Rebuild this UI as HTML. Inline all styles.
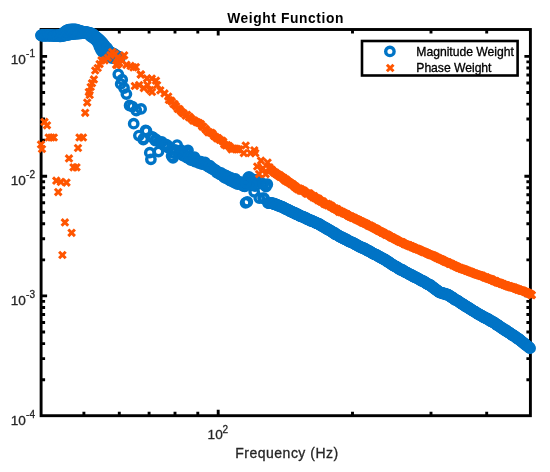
<!DOCTYPE html>
<html><head><meta charset="utf-8"><style>
html,body{margin:0;padding:0;background:#fff;}
svg{display:block;will-change:transform;}
text{font-family:"Liberation Sans",sans-serif;}
.t{stroke:#262626;stroke-width:0.3px;}
.k{stroke:#000;stroke-width:0.3px;}
</style></head><body>
<svg width="550" height="472" viewBox="0 0 550 472">
<rect width="550" height="472" fill="#fff"/>
<rect x="41.1" y="29.5" width="489.3" height="386.2" fill="none" stroke="#000" stroke-width="2.9"/>
<path d="M218.2 415.7v-6M218.2 29.5v6M83.9 415.7v-4M83.9 29.5v4M119.3 415.7v-4M119.3 29.5v4M149.1 415.7v-4M149.1 29.5v4M175.0 415.7v-4M175.0 29.5v4M197.8 415.7v-4M197.8 29.5v4M352.5 415.7v-4M352.5 29.5v4M431.0 415.7v-4M431.0 29.5v4M486.7 415.7v-4M486.7 29.5v4M41.1 56.4h6M530.4 56.4h-6M41.1 176.2h6M530.4 176.2h-6M41.1 295.9h6M530.4 295.9h-6M41.1 379.7h4M530.4 379.7h-4M41.1 358.6h4M530.4 358.6h-4M41.1 343.6h4M530.4 343.6h-4M41.1 332.0h4M530.4 332.0h-4M41.1 322.5h4M530.4 322.5h-4M41.1 314.5h4M530.4 314.5h-4M41.1 307.5h4M530.4 307.5h-4M41.1 301.4h4M530.4 301.4h-4M41.1 259.9h4M530.4 259.9h-4M41.1 238.8h4M530.4 238.8h-4M41.1 223.8h4M530.4 223.8h-4M41.1 212.2h4M530.4 212.2h-4M41.1 202.7h4M530.4 202.7h-4M41.1 194.7h4M530.4 194.7h-4M41.1 187.8h4M530.4 187.8h-4M41.1 181.7h4M530.4 181.7h-4M41.1 140.1h4M530.4 140.1h-4M41.1 119.0h4M530.4 119.0h-4M41.1 104.1h4M530.4 104.1h-4M41.1 92.5h4M530.4 92.5h-4M41.1 83.0h4M530.4 83.0h-4M41.1 75.0h4M530.4 75.0h-4M41.1 68.0h4M530.4 68.0h-4M41.1 61.9h4M530.4 61.9h-4" stroke="#000" stroke-width="2.9" fill="none"/>
<text x="10.7" y="63.6" font-size="13.6" fill="#262626" class="t">10</text><text x="26.0" y="56.5" font-size="10" fill="#262626" class="t">-</text><text x="29.6" y="56.7" font-size="10" fill="#262626" class="t">1</text>
<text x="10.7" y="184.6" font-size="13.6" fill="#262626" class="t">10</text><text x="26.0" y="177.5" font-size="10" fill="#262626" class="t">-</text><text x="29.6" y="177.7" font-size="10" fill="#262626" class="t">2</text>
<text x="10.7" y="304.6" font-size="13.6" fill="#262626" class="t">10</text><text x="26.0" y="297.5" font-size="10" fill="#262626" class="t">-</text><text x="29.6" y="297.7" font-size="10" fill="#262626" class="t">3</text>
<text x="10.7" y="424.6" font-size="13.6" fill="#262626" class="t">10</text><text x="26.0" y="417.5" font-size="10" fill="#262626" class="t">-</text><text x="29.6" y="417.7" font-size="10" fill="#262626" class="t">4</text>
<text x="207.6" y="439.1" font-size="13.6" fill="#262626" class="t">10</text><text x="222.4" y="432.5" font-size="10" fill="#262626" class="t">2</text>

<text x="235.2" y="458.3" font-size="14" fill="#262626" class="t" textLength="103" lengthAdjust="spacing">Frequency (Hz)</text>
<text x="227.2" y="22.8" font-size="13.8" font-weight="bold" fill="#000" textLength="116.2" lengthAdjust="spacing">Weight Function</text>
<g fill="none" stroke="#0074C6" stroke-width="3.4">
<circle cx="41.0" cy="35.3" r="4.2"/><circle cx="41.6" cy="35.5" r="4.2"/><circle cx="41.3" cy="35.1" r="4.2"/><circle cx="42.2" cy="35.3" r="4.2"/><circle cx="42.8" cy="35.5" r="4.2"/><circle cx="42.5" cy="35.5" r="4.2"/><circle cx="43.4" cy="35.3" r="4.2"/><circle cx="44.0" cy="35.5" r="4.2"/><circle cx="43.7" cy="35.3" r="4.2"/><circle cx="44.6" cy="35.3" r="4.2"/><circle cx="45.2" cy="35.5" r="4.2"/><circle cx="44.9" cy="35.5" r="4.2"/><circle cx="45.8" cy="35.3" r="4.2"/><circle cx="46.4" cy="35.5" r="4.2"/><circle cx="46.1" cy="35.6" r="4.2"/><circle cx="47.0" cy="35.4" r="4.2"/><circle cx="47.6" cy="35.6" r="4.2"/><circle cx="47.3" cy="35.0" r="4.2"/><circle cx="48.2" cy="35.4" r="4.2"/><circle cx="48.8" cy="35.6" r="4.2"/><circle cx="48.5" cy="35.0" r="4.2"/><circle cx="49.4" cy="35.4" r="4.2"/><circle cx="50.0" cy="35.6" r="4.2"/><circle cx="49.7" cy="35.8" r="4.2"/><circle cx="50.6" cy="35.4" r="4.2"/><circle cx="51.2" cy="35.6" r="4.2"/><circle cx="50.9" cy="35.2" r="4.2"/><circle cx="51.8" cy="35.4" r="4.2"/><circle cx="52.4" cy="35.6" r="4.2"/><circle cx="52.1" cy="35.2" r="4.2"/><circle cx="53.0" cy="35.4" r="4.2"/><circle cx="53.6" cy="35.7" r="4.2"/><circle cx="53.3" cy="36.0" r="4.2"/><circle cx="54.2" cy="35.3" r="4.2"/><circle cx="54.8" cy="35.8" r="4.2"/><circle cx="54.5" cy="35.5" r="4.2"/><circle cx="55.4" cy="35.3" r="4.2"/><circle cx="56.0" cy="35.9" r="4.2"/><circle cx="55.7" cy="35.9" r="4.2"/><circle cx="56.6" cy="35.2" r="4.2"/><circle cx="57.2" cy="36.1" r="4.2"/><circle cx="56.9" cy="35.6" r="4.2"/><circle cx="57.8" cy="35.2" r="4.2"/><circle cx="58.4" cy="36.2" r="4.2"/><circle cx="58.1" cy="35.8" r="4.2"/><circle cx="59.0" cy="35.0" r="4.2"/><circle cx="59.6" cy="36.3" r="4.2"/><circle cx="59.3" cy="35.3" r="4.2"/><circle cx="60.2" cy="34.8" r="4.2"/><circle cx="60.8" cy="36.4" r="4.2"/><circle cx="60.5" cy="35.7" r="4.2"/><circle cx="61.4" cy="34.3" r="4.2"/><circle cx="62.0" cy="36.1" r="4.2"/><circle cx="61.7" cy="35.6" r="4.2"/><circle cx="62.6" cy="33.5" r="4.2"/><circle cx="63.2" cy="35.8" r="4.2"/><circle cx="62.9" cy="34.7" r="4.2"/><circle cx="63.8" cy="32.6" r="4.2"/><circle cx="64.4" cy="35.6" r="4.2"/><circle cx="64.1" cy="34.3" r="4.2"/><circle cx="65.0" cy="31.7" r="4.2"/><circle cx="65.6" cy="35.3" r="4.2"/><circle cx="65.3" cy="33.7" r="4.2"/><circle cx="66.2" cy="30.7" r="4.2"/><circle cx="66.8" cy="35.1" r="4.2"/><circle cx="66.5" cy="32.5" r="4.2"/><circle cx="67.4" cy="30.2" r="4.2"/><circle cx="68.0" cy="34.8" r="4.2"/><circle cx="67.7" cy="32.8" r="4.2"/><circle cx="68.6" cy="29.7" r="4.2"/><circle cx="69.2" cy="34.6" r="4.2"/><circle cx="68.9" cy="32.3" r="4.2"/><circle cx="69.8" cy="29.6" r="4.2"/><circle cx="70.4" cy="34.4" r="4.2"/><circle cx="70.1" cy="31.8" r="4.2"/><circle cx="71.0" cy="29.5" r="4.2"/><circle cx="71.6" cy="34.2" r="4.2"/><circle cx="71.3" cy="31.4" r="4.2"/><circle cx="72.2" cy="29.5" r="4.2"/><circle cx="72.8" cy="34.1" r="4.2"/><circle cx="72.5" cy="32.2" r="4.2"/><circle cx="73.4" cy="29.5" r="4.2"/><circle cx="74.0" cy="33.9" r="4.2"/><circle cx="73.7" cy="31.7" r="4.2"/><circle cx="74.6" cy="29.4" r="4.2"/><circle cx="75.2" cy="33.8" r="4.2"/><circle cx="74.9" cy="31.8" r="4.2"/><circle cx="75.8" cy="29.4" r="4.2"/><circle cx="76.4" cy="33.6" r="4.2"/><circle cx="76.1" cy="31.9" r="4.2"/><circle cx="77.0" cy="29.8" r="4.2"/><circle cx="77.6" cy="33.5" r="4.2"/><circle cx="77.3" cy="31.9" r="4.2"/><circle cx="78.2" cy="30.2" r="4.2"/><circle cx="78.8" cy="33.5" r="4.2"/><circle cx="78.5" cy="32.2" r="4.2"/><circle cx="79.4" cy="30.6" r="4.2"/><circle cx="80.0" cy="33.4" r="4.2"/><circle cx="79.7" cy="31.9" r="4.2"/><circle cx="80.6" cy="31.0" r="4.2"/><circle cx="81.2" cy="33.3" r="4.2"/><circle cx="80.9" cy="32.5" r="4.2"/><circle cx="81.8" cy="31.4" r="4.2"/><circle cx="82.4" cy="33.2" r="4.2"/><circle cx="82.1" cy="32.3" r="4.2"/><circle cx="83.0" cy="31.7" r="4.2"/><circle cx="83.6" cy="33.2" r="4.2"/><circle cx="83.3" cy="32.8" r="4.2"/><circle cx="84.2" cy="31.9" r="4.2"/><circle cx="84.8" cy="33.1" r="4.2"/><circle cx="84.5" cy="32.9" r="4.2"/><circle cx="85.4" cy="32.0" r="4.2"/><circle cx="86.0" cy="33.1" r="4.2"/><circle cx="85.7" cy="32.2" r="4.2"/><circle cx="86.6" cy="32.2" r="4.2"/><circle cx="87.2" cy="33.0" r="4.2"/><circle cx="86.9" cy="32.3" r="4.2"/><circle cx="87.8" cy="32.5" r="4.2"/><circle cx="88.4" cy="33.9" r="4.2"/><circle cx="88.1" cy="32.9" r="4.2"/><circle cx="89.0" cy="32.7" r="4.2"/><circle cx="89.6" cy="35.2" r="4.2"/><circle cx="89.3" cy="34.4" r="4.2"/><circle cx="90.2" cy="33.0" r="4.2"/><circle cx="90.8" cy="36.4" r="4.2"/><circle cx="90.5" cy="34.6" r="4.2"/><circle cx="91.4" cy="33.5" r="4.2"/><circle cx="92.0" cy="37.2" r="4.2"/><circle cx="91.7" cy="35.5" r="4.2"/><circle cx="92.6" cy="34.0" r="4.2"/><circle cx="93.2" cy="37.9" r="4.2"/><circle cx="92.9" cy="35.8" r="4.2"/><circle cx="93.8" cy="34.7" r="4.2"/><circle cx="94.4" cy="38.8" r="4.2"/><circle cx="94.1" cy="36.7" r="4.2"/><circle cx="95.0" cy="35.8" r="4.2"/><circle cx="95.6" cy="39.9" r="4.2"/><circle cx="95.3" cy="37.7" r="4.2"/><circle cx="96.2" cy="36.9" r="4.2"/><circle cx="96.8" cy="41.1" r="4.2"/><circle cx="96.5" cy="38.8" r="4.2"/><circle cx="97.4" cy="37.9" r="4.2"/><circle cx="98.0" cy="43.0" r="4.2"/><circle cx="97.7" cy="40.5" r="4.2"/><circle cx="98.6" cy="39.0" r="4.2"/><circle cx="99.2" cy="44.9" r="4.2"/><circle cx="98.9" cy="42.0" r="4.2"/><circle cx="99.8" cy="40.0" r="4.2"/><circle cx="100.4" cy="46.4" r="4.2"/><circle cx="100.1" cy="43.6" r="4.2"/><circle cx="101.0" cy="41.1" r="4.2"/><circle cx="101.6" cy="47.8" r="4.2"/><circle cx="101.3" cy="44.6" r="4.2"/><circle cx="102.2" cy="42.3" r="4.2"/><circle cx="102.8" cy="49.1" r="4.2"/><circle cx="102.5" cy="46.1" r="4.2"/><circle cx="103.4" cy="43.9" r="4.2"/><circle cx="104.0" cy="49.9" r="4.2"/><circle cx="103.7" cy="47.3" r="4.2"/><circle cx="104.6" cy="45.5" r="4.2"/><circle cx="105.2" cy="50.7" r="4.2"/><circle cx="104.9" cy="48.6" r="4.2"/><circle cx="105.8" cy="47.1" r="4.2"/><circle cx="106.4" cy="51.5" r="4.2"/><circle cx="106.1" cy="49.5" r="4.2"/><circle cx="107.0" cy="48.6" r="4.2"/><circle cx="107.6" cy="52.6" r="4.2"/><circle cx="107.3" cy="50.2" r="4.2"/><circle cx="108.2" cy="49.9" r="4.2"/><circle cx="108.8" cy="53.9" r="4.2"/><circle cx="108.5" cy="52.3" r="4.2"/><circle cx="109.4" cy="51.3" r="4.2"/><circle cx="110.0" cy="55.3" r="4.2"/><circle cx="109.7" cy="53.8" r="4.2"/><circle cx="110.6" cy="52.3" r="4.2"/><circle cx="111.2" cy="56.3" r="4.2"/><circle cx="110.9" cy="54.7" r="4.2"/><circle cx="111.8" cy="52.8" r="4.2"/><circle cx="112.4" cy="56.9" r="4.2"/><circle cx="112.1" cy="54.9" r="4.2"/><circle cx="113.0" cy="53.3" r="4.2"/><circle cx="113.6" cy="57.5" r="4.2"/><circle cx="113.3" cy="55.6" r="4.2"/><circle cx="114.2" cy="53.9" r="4.2"/><circle cx="114.8" cy="58.0" r="4.2"/><circle cx="114.5" cy="55.6" r="4.2"/><circle cx="115.4" cy="54.8" r="4.2"/><circle cx="116.0" cy="57.9" r="4.2"/><circle cx="115.7" cy="56.7" r="4.2"/><circle cx="116.6" cy="55.7" r="4.2"/><circle cx="117.2" cy="57.8" r="4.2"/><circle cx="116.9" cy="56.8" r="4.2"/><circle cx="117.8" cy="56.7" r="4.2"/><circle cx="118.4" cy="57.7" r="4.2"/><circle cx="118.1" cy="57.0" r="4.2"/><circle cx="119.0" cy="57.6" r="4.2"/><circle cx="119.6" cy="57.6" r="4.2"/><circle cx="119.3" cy="57.2" r="4.2"/><circle cx="249.0" cy="177.0" r="4.2"/><circle cx="253.0" cy="179.5" r="4.2"/><circle cx="258.0" cy="181.0" r="4.2"/><circle cx="262.0" cy="183.5" r="4.2"/><circle cx="266.0" cy="186.5" r="4.2"/><circle cx="255.0" cy="186.0" r="4.2"/><circle cx="250.0" cy="183.0" r="4.2"/><circle cx="152.0" cy="137.0" r="4.2"/><circle cx="156.0" cy="139.5" r="4.2"/><circle cx="160.0" cy="142.5" r="4.2"/><circle cx="164.0" cy="145.0" r="4.2"/><circle cx="168.0" cy="147.5" r="4.2"/><circle cx="175.0" cy="150.0" r="4.2"/><circle cx="179.0" cy="152.0" r="4.2"/><circle cx="183.0" cy="155.5" r="4.2"/><circle cx="187.0" cy="157.5" r="4.2"/><circle cx="191.0" cy="160.0" r="4.2"/><circle cx="195.0" cy="161.0" r="4.2"/><circle cx="99.5" cy="47.0" r="4.2"/><circle cx="101.0" cy="50.0" r="4.2"/><circle cx="102.5" cy="52.0" r="4.2"/><circle cx="104.0" cy="51.0" r="4.2"/><circle cx="106.0" cy="50.0" r="4.2"/><circle cx="108.0" cy="54.0" r="4.2"/><circle cx="110.0" cy="56.0" r="4.2"/><circle cx="112.0" cy="58.0" r="4.2"/><circle cx="114.5" cy="57.0" r="4.2"/><circle cx="117.0" cy="58.0" r="4.2"/><circle cx="120.0" cy="57.5" r="4.2"/><circle cx="103.0" cy="46.0" r="4.2"/><circle cx="107.0" cy="48.0" r="4.2"/><circle cx="118.3" cy="74.3" r="4.2"/><circle cx="122.2" cy="79.7" r="4.2"/><circle cx="120.7" cy="83.9" r="4.2"/><circle cx="126.4" cy="94.1" r="4.2"/><circle cx="124.0" cy="88.0" r="4.2"/><circle cx="129.6" cy="105.5" r="4.2"/><circle cx="132.5" cy="106.6" r="4.2"/><circle cx="136.3" cy="110.5" r="4.2"/><circle cx="141.1" cy="108.9" r="4.2"/><circle cx="133.7" cy="123.7" r="4.2"/><circle cx="138.9" cy="135.6" r="4.2"/><circle cx="143.4" cy="138.6" r="4.2"/><circle cx="145.6" cy="130.4" r="4.2"/><circle cx="146.5" cy="130.9" r="4.2"/><circle cx="143.3" cy="139.6" r="4.2"/><circle cx="153.1" cy="137.4" r="4.2"/><circle cx="155.3" cy="140.7" r="4.2"/><circle cx="149.8" cy="152.7" r="4.2"/><circle cx="150.9" cy="159.3" r="4.2"/><circle cx="158.5" cy="151.6" r="4.2"/><circle cx="161.8" cy="141.8" r="4.2"/><circle cx="167.3" cy="145.1" r="4.2"/><circle cx="171.6" cy="156.0" r="4.2"/><circle cx="172.7" cy="152.7" r="4.2"/><circle cx="177.1" cy="145.1" r="4.2"/><circle cx="181.4" cy="151.6" r="4.2"/><circle cx="188.0" cy="150.5" r="4.2"/><circle cx="190.2" cy="159.3" r="4.2"/><circle cx="194.5" cy="157.1" r="4.2"/><circle cx="198.9" cy="161.4" r="4.2"/><circle cx="165.6" cy="144.5" r="4.2"/><circle cx="173.0" cy="157.9" r="4.2"/><circle cx="181.9" cy="153.4" r="4.2"/><circle cx="186.0" cy="152.0" r="4.2"/><circle cx="250.4" cy="178.4" r="4.2"/><circle cx="256.0" cy="180.0" r="4.2"/><circle cx="263.1" cy="184.1" r="4.2"/><circle cx="267.3" cy="184.2" r="4.2"/><circle cx="254.2" cy="191.8" r="4.2"/><circle cx="245.6" cy="202.8" r="4.2"/><circle cx="247.3" cy="201.8" r="4.2"/><circle cx="259.3" cy="198.1" r="4.2"/><circle cx="263.1" cy="198.1" r="4.2"/><circle cx="264.1" cy="198.5" r="4.2"/><circle cx="252.0" cy="185.0" r="4.2"/><circle cx="248.0" cy="178.0" r="4.2"/><circle cx="180.2" cy="151.6" r="4.2"/><circle cx="181.1" cy="150.1" r="4.2"/><circle cx="181.9" cy="152.0" r="4.2"/><circle cx="183.1" cy="152.5" r="4.2"/><circle cx="183.8" cy="155.1" r="4.2"/><circle cx="184.8" cy="155.1" r="4.2"/><circle cx="185.9" cy="156.3" r="4.2"/><circle cx="187.2" cy="157.5" r="4.2"/><circle cx="188.2" cy="156.9" r="4.2"/><circle cx="188.8" cy="156.9" r="4.2"/><circle cx="189.8" cy="158.3" r="4.2"/><circle cx="191.0" cy="157.6" r="4.2"/><circle cx="191.9" cy="159.4" r="4.2"/><circle cx="193.1" cy="158.2" r="4.2"/><circle cx="194.2" cy="159.4" r="4.2"/><circle cx="195.0" cy="161.5" r="4.2"/><circle cx="196.0" cy="160.6" r="4.2"/><circle cx="197.0" cy="161.5" r="4.2"/><circle cx="198.0" cy="161.6" r="4.2"/><circle cx="199.0" cy="163.1" r="4.2"/><circle cx="200.1" cy="161.9" r="4.2"/><circle cx="200.9" cy="161.7" r="4.2"/><circle cx="202.0" cy="164.2" r="4.2"/><circle cx="202.8" cy="163.3" r="4.2"/><circle cx="204.0" cy="163.2" r="4.2"/><circle cx="205.0" cy="162.4" r="4.2"/><circle cx="205.8" cy="164.8" r="4.2"/><circle cx="207.0" cy="165.5" r="4.2"/><circle cx="207.9" cy="166.3" r="4.2"/><circle cx="209.1" cy="167.0" r="4.2"/><circle cx="209.8" cy="165.6" r="4.2"/><circle cx="211.2" cy="168.3" r="4.2"/><circle cx="212.0" cy="167.7" r="4.2"/><circle cx="212.9" cy="169.4" r="4.2"/><circle cx="213.9" cy="169.3" r="4.2"/><circle cx="215.0" cy="170.0" r="4.2"/><circle cx="216.0" cy="170.5" r="4.2"/><circle cx="216.8" cy="172.6" r="4.2"/><circle cx="218.1" cy="172.6" r="4.2"/><circle cx="218.9" cy="172.4" r="4.2"/><circle cx="219.9" cy="174.4" r="4.2"/><circle cx="221.0" cy="173.0" r="4.2"/><circle cx="221.8" cy="175.1" r="4.2"/><circle cx="222.9" cy="174.5" r="4.2"/><circle cx="224.0" cy="176.5" r="4.2"/><circle cx="223.9" cy="177.1" r="4.2"/><circle cx="224.9" cy="175.2" r="4.2"/><circle cx="225.6" cy="178.1" r="4.2"/><circle cx="226.2" cy="175.6" r="4.2"/><circle cx="227.1" cy="177.5" r="4.2"/><circle cx="228.1" cy="179.2" r="4.2"/><circle cx="228.7" cy="176.9" r="4.2"/><circle cx="229.7" cy="180.1" r="4.2"/><circle cx="230.3" cy="180.6" r="4.2"/><circle cx="231.1" cy="178.0" r="4.2"/><circle cx="231.9" cy="181.2" r="4.2"/><circle cx="232.8" cy="179.6" r="4.2"/><circle cx="233.6" cy="180.2" r="4.2"/><circle cx="234.3" cy="182.7" r="4.2"/><circle cx="235.4" cy="179.0" r="4.2"/><circle cx="236.2" cy="183.2" r="4.2"/><circle cx="237.0" cy="181.5" r="4.2"/><circle cx="237.5" cy="184.0" r="4.2"/><circle cx="238.5" cy="183.5" r="4.2"/><circle cx="239.2" cy="183.4" r="4.2"/><circle cx="239.9" cy="182.1" r="4.2"/><circle cx="240.6" cy="182.1" r="4.2"/><circle cx="241.5" cy="183.9" r="4.2"/><circle cx="242.2" cy="185.2" r="4.2"/><circle cx="243.3" cy="185.8" r="4.2"/><circle cx="244.2" cy="186.2" r="4.2"/><circle cx="244.8" cy="186.4" r="4.2"/><circle cx="245.7" cy="182.7" r="4.2"/><circle cx="267.9" cy="202.8" r="4.2"/><circle cx="268.6" cy="203.2" r="4.2"/><circle cx="269.4" cy="203.0" r="4.2"/><circle cx="269.7" cy="203.2" r="4.2"/><circle cx="270.5" cy="203.0" r="4.2"/><circle cx="271.1" cy="203.2" r="4.2"/><circle cx="271.5" cy="203.1" r="4.2"/><circle cx="272.3" cy="203.3" r="4.2"/><circle cx="272.9" cy="203.1" r="4.2"/><circle cx="273.5" cy="203.9" r="4.2"/><circle cx="273.8" cy="204.1" r="4.2"/><circle cx="274.7" cy="204.2" r="4.2"/><circle cx="275.1" cy="204.0" r="4.2"/><circle cx="275.8" cy="204.4" r="4.2"/><circle cx="276.4" cy="204.8" r="4.2"/><circle cx="276.8" cy="205.2" r="4.2"/><circle cx="277.5" cy="205.0" r="4.2"/><circle cx="278.0" cy="205.3" r="4.2"/><circle cx="278.9" cy="206.1" r="4.2"/><circle cx="279.4" cy="205.7" r="4.2"/><circle cx="279.9" cy="206.1" r="4.2"/><circle cx="280.7" cy="206.4" r="4.2"/><circle cx="281.1" cy="206.8" r="4.2"/><circle cx="281.7" cy="206.7" r="4.2"/><circle cx="282.4" cy="206.9" r="4.2"/><circle cx="283.0" cy="207.6" r="4.2"/><circle cx="283.5" cy="207.4" r="4.2"/><circle cx="284.2" cy="207.9" r="4.2"/><circle cx="284.8" cy="208.5" r="4.2"/><circle cx="285.4" cy="208.8" r="4.2"/><circle cx="285.9" cy="208.9" r="4.2"/><circle cx="286.7" cy="209.2" r="4.2"/><circle cx="287.3" cy="209.5" r="4.2"/><circle cx="287.7" cy="209.8" r="4.2"/><circle cx="288.5" cy="210.2" r="4.2"/><circle cx="289.0" cy="210.2" r="4.2"/><circle cx="289.8" cy="210.7" r="4.2"/><circle cx="290.1" cy="211.4" r="4.2"/><circle cx="290.9" cy="211.6" r="4.2"/><circle cx="291.4" cy="211.5" r="4.2"/><circle cx="292.1" cy="211.7" r="4.2"/><circle cx="292.8" cy="212.3" r="4.2"/><circle cx="293.3" cy="212.7" r="4.2"/><circle cx="293.8" cy="212.9" r="4.2"/><circle cx="294.4" cy="212.7" r="4.2"/><circle cx="294.9" cy="212.9" r="4.2"/><circle cx="295.4" cy="213.8" r="4.2"/><circle cx="296.0" cy="213.6" r="4.2"/><circle cx="296.7" cy="214.4" r="4.2"/><circle cx="297.5" cy="214.1" r="4.2"/><circle cx="298.1" cy="214.4" r="4.2"/><circle cx="298.7" cy="215.1" r="4.2"/><circle cx="299.2" cy="215.5" r="4.2"/><circle cx="299.6" cy="215.7" r="4.2"/><circle cx="300.4" cy="216.0" r="4.2"/><circle cx="300.8" cy="216.2" r="4.2"/><circle cx="301.8" cy="216.5" r="4.2"/><circle cx="302.1" cy="216.3" r="4.2"/><circle cx="302.9" cy="216.9" r="4.2"/><circle cx="303.3" cy="217.0" r="4.2"/><circle cx="304.0" cy="217.2" r="4.2"/><circle cx="304.6" cy="217.9" r="4.2"/><circle cx="305.2" cy="217.9" r="4.2"/><circle cx="305.8" cy="218.1" r="4.2"/><circle cx="306.4" cy="218.2" r="4.2"/><circle cx="307.0" cy="219.1" r="4.2"/><circle cx="307.5" cy="219.2" r="4.2"/><circle cx="308.3" cy="219.5" r="4.2"/><circle cx="308.8" cy="219.7" r="4.2"/><circle cx="309.5" cy="219.9" r="4.2"/><circle cx="309.9" cy="220.4" r="4.2"/><circle cx="310.7" cy="220.1" r="4.2"/><circle cx="311.2" cy="221.0" r="4.2"/><circle cx="311.9" cy="220.9" r="4.2"/><circle cx="312.3" cy="221.0" r="4.2"/><circle cx="313.0" cy="221.3" r="4.2"/><circle cx="313.5" cy="221.7" r="4.2"/><circle cx="314.4" cy="222.2" r="4.2"/><circle cx="314.9" cy="222.2" r="4.2"/><circle cx="315.5" cy="222.5" r="4.2"/><circle cx="315.9" cy="222.9" r="4.2"/><circle cx="316.4" cy="223.0" r="4.2"/><circle cx="317.2" cy="223.4" r="4.2"/><circle cx="317.7" cy="223.5" r="4.2"/><circle cx="318.5" cy="223.8" r="4.2"/><circle cx="319.2" cy="224.0" r="4.2"/><circle cx="319.6" cy="224.5" r="4.2"/><circle cx="320.3" cy="224.8" r="4.2"/><circle cx="320.8" cy="225.4" r="4.2"/><circle cx="321.5" cy="225.5" r="4.2"/><circle cx="322.0" cy="226.1" r="4.2"/><circle cx="322.8" cy="226.4" r="4.2"/><circle cx="323.1" cy="226.6" r="4.2"/><circle cx="323.9" cy="226.8" r="4.2"/><circle cx="324.6" cy="227.4" r="4.2"/><circle cx="324.9" cy="227.9" r="4.2"/><circle cx="325.5" cy="227.8" r="4.2"/><circle cx="326.3" cy="228.1" r="4.2"/><circle cx="327.0" cy="229.0" r="4.2"/><circle cx="327.5" cy="228.9" r="4.2"/><circle cx="328.0" cy="229.3" r="4.2"/><circle cx="328.4" cy="229.9" r="4.2"/><circle cx="329.3" cy="229.8" r="4.2"/><circle cx="329.7" cy="230.3" r="4.2"/><circle cx="330.5" cy="230.9" r="4.2"/><circle cx="330.9" cy="230.8" r="4.2"/><circle cx="331.6" cy="231.5" r="4.2"/><circle cx="332.2" cy="231.7" r="4.2"/><circle cx="332.8" cy="232.6" r="4.2"/><circle cx="333.2" cy="232.6" r="4.2"/><circle cx="334.1" cy="232.8" r="4.2"/><circle cx="334.8" cy="233.0" r="4.2"/><circle cx="335.0" cy="234.0" r="4.2"/><circle cx="335.7" cy="234.3" r="4.2"/><circle cx="336.5" cy="234.6" r="4.2"/><circle cx="337.1" cy="234.6" r="4.2"/><circle cx="337.7" cy="235.2" r="4.2"/><circle cx="338.3" cy="235.3" r="4.2"/><circle cx="338.9" cy="236.1" r="4.2"/><circle cx="339.2" cy="236.2" r="4.2"/><circle cx="339.9" cy="236.5" r="4.2"/><circle cx="340.7" cy="237.0" r="4.2"/><circle cx="341.1" cy="237.2" r="4.2"/><circle cx="341.9" cy="237.5" r="4.2"/><circle cx="342.6" cy="237.5" r="4.2"/><circle cx="342.8" cy="238.1" r="4.2"/><circle cx="343.5" cy="238.6" r="4.2"/><circle cx="344.3" cy="238.5" r="4.2"/><circle cx="344.8" cy="239.0" r="4.2"/><circle cx="345.4" cy="239.3" r="4.2"/><circle cx="345.9" cy="239.4" r="4.2"/><circle cx="346.7" cy="239.5" r="4.2"/><circle cx="347.2" cy="240.3" r="4.2"/><circle cx="347.7" cy="240.6" r="4.2"/><circle cx="348.4" cy="240.6" r="4.2"/><circle cx="348.8" cy="241.3" r="4.2"/><circle cx="349.5" cy="241.3" r="4.2"/><circle cx="350.1" cy="241.8" r="4.2"/><circle cx="350.8" cy="241.8" r="4.2"/><circle cx="351.5" cy="242.3" r="4.2"/><circle cx="352.1" cy="242.4" r="4.2"/><circle cx="352.5" cy="242.6" r="4.2"/><circle cx="353.0" cy="242.9" r="4.2"/><circle cx="353.9" cy="243.6" r="4.2"/><circle cx="354.3" cy="243.5" r="4.2"/><circle cx="355.1" cy="244.0" r="4.2"/><circle cx="355.7" cy="244.6" r="4.2"/><circle cx="356.1" cy="244.7" r="4.2"/><circle cx="356.7" cy="244.9" r="4.2"/><circle cx="357.4" cy="245.3" r="4.2"/><circle cx="357.9" cy="245.4" r="4.2"/><circle cx="358.4" cy="246.1" r="4.2"/><circle cx="359.4" cy="246.4" r="4.2"/><circle cx="359.8" cy="246.8" r="4.2"/><circle cx="360.4" cy="246.8" r="4.2"/><circle cx="361.2" cy="247.2" r="4.2"/><circle cx="361.5" cy="247.5" r="4.2"/><circle cx="362.2" cy="247.9" r="4.2"/><circle cx="362.9" cy="248.0" r="4.2"/><circle cx="363.5" cy="247.9" r="4.2"/><circle cx="364.0" cy="248.7" r="4.2"/><circle cx="364.6" cy="248.9" r="4.2"/><circle cx="365.2" cy="249.0" r="4.2"/><circle cx="365.8" cy="249.2" r="4.2"/><circle cx="366.4" cy="249.9" r="4.2"/><circle cx="367.2" cy="250.1" r="4.2"/><circle cx="367.5" cy="250.7" r="4.2"/><circle cx="368.2" cy="250.9" r="4.2"/><circle cx="368.7" cy="250.7" r="4.2"/><circle cx="369.2" cy="251.1" r="4.2"/><circle cx="370.2" cy="251.6" r="4.2"/><circle cx="370.7" cy="251.8" r="4.2"/><circle cx="371.1" cy="252.4" r="4.2"/><circle cx="371.8" cy="252.8" r="4.2"/><circle cx="372.5" cy="253.2" r="4.2"/><circle cx="372.9" cy="253.4" r="4.2"/><circle cx="373.8" cy="253.8" r="4.2"/><circle cx="374.2" cy="254.1" r="4.2"/><circle cx="374.8" cy="254.4" r="4.2"/><circle cx="375.2" cy="254.3" r="4.2"/><circle cx="375.9" cy="254.6" r="4.2"/><circle cx="376.6" cy="255.0" r="4.2"/><circle cx="377.2" cy="255.7" r="4.2"/><circle cx="377.9" cy="255.8" r="4.2"/><circle cx="378.4" cy="256.1" r="4.2"/><circle cx="379.0" cy="256.7" r="4.2"/><circle cx="379.8" cy="256.6" r="4.2"/><circle cx="380.1" cy="257.3" r="4.2"/><circle cx="380.8" cy="257.4" r="4.2"/><circle cx="381.3" cy="257.9" r="4.2"/><circle cx="381.9" cy="257.8" r="4.2"/><circle cx="382.5" cy="258.7" r="4.2"/><circle cx="383.1" cy="258.8" r="4.2"/><circle cx="383.7" cy="258.9" r="4.2"/><circle cx="384.3" cy="259.4" r="4.2"/><circle cx="384.8" cy="259.5" r="4.2"/><circle cx="385.6" cy="260.0" r="4.2"/><circle cx="386.0" cy="260.3" r="4.2"/><circle cx="386.8" cy="260.9" r="4.2"/><circle cx="387.2" cy="261.5" r="4.2"/><circle cx="388.0" cy="261.7" r="4.2"/><circle cx="388.8" cy="261.8" r="4.2"/><circle cx="389.0" cy="262.3" r="4.2"/><circle cx="389.7" cy="262.9" r="4.2"/><circle cx="390.3" cy="263.3" r="4.2"/><circle cx="390.8" cy="263.4" r="4.2"/><circle cx="391.5" cy="264.2" r="4.2"/><circle cx="392.2" cy="264.6" r="4.2"/><circle cx="392.7" cy="265.1" r="4.2"/><circle cx="393.3" cy="265.0" r="4.2"/><circle cx="394.1" cy="265.8" r="4.2"/><circle cx="394.4" cy="265.8" r="4.2"/><circle cx="395.4" cy="266.4" r="4.2"/><circle cx="395.6" cy="266.7" r="4.2"/><circle cx="396.2" cy="266.7" r="4.2"/><circle cx="396.8" cy="267.1" r="4.2"/><circle cx="397.7" cy="267.3" r="4.2"/><circle cx="398.1" cy="268.3" r="4.2"/><circle cx="398.8" cy="268.7" r="4.2"/><circle cx="399.6" cy="268.9" r="4.2"/><circle cx="399.8" cy="269.3" r="4.2"/><circle cx="400.6" cy="269.2" r="4.2"/><circle cx="401.0" cy="270.0" r="4.2"/><circle cx="401.9" cy="269.8" r="4.2"/><circle cx="402.4" cy="270.0" r="4.2"/><circle cx="403.1" cy="270.5" r="4.2"/><circle cx="403.5" cy="271.2" r="4.2"/><circle cx="404.3" cy="271.4" r="4.2"/><circle cx="404.8" cy="271.8" r="4.2"/><circle cx="405.3" cy="272.2" r="4.2"/><circle cx="405.9" cy="272.2" r="4.2"/><circle cx="406.6" cy="272.7" r="4.2"/><circle cx="407.1" cy="272.7" r="4.2"/><circle cx="407.8" cy="273.3" r="4.2"/><circle cx="408.4" cy="273.7" r="4.2"/><circle cx="408.9" cy="273.8" r="4.2"/><circle cx="409.4" cy="274.3" r="4.2"/><circle cx="410.3" cy="274.5" r="4.2"/><circle cx="410.6" cy="274.9" r="4.2"/><circle cx="411.5" cy="274.9" r="4.2"/><circle cx="412.2" cy="275.5" r="4.2"/><circle cx="412.6" cy="276.0" r="4.2"/><circle cx="413.3" cy="276.4" r="4.2"/><circle cx="413.7" cy="276.3" r="4.2"/><circle cx="414.4" cy="276.4" r="4.2"/><circle cx="414.8" cy="277.4" r="4.2"/><circle cx="415.4" cy="277.4" r="4.2"/><circle cx="416.3" cy="277.4" r="4.2"/><circle cx="416.6" cy="277.8" r="4.2"/><circle cx="417.5" cy="278.1" r="4.2"/><circle cx="417.8" cy="278.7" r="4.2"/><circle cx="418.8" cy="278.8" r="4.2"/><circle cx="419.2" cy="279.1" r="4.2"/><circle cx="419.9" cy="279.6" r="4.2"/><circle cx="420.5" cy="280.0" r="4.2"/><circle cx="420.9" cy="280.3" r="4.2"/><circle cx="421.4" cy="280.4" r="4.2"/><circle cx="422.0" cy="281.1" r="4.2"/><circle cx="423.0" cy="280.9" r="4.2"/><circle cx="423.6" cy="281.3" r="4.2"/><circle cx="424.0" cy="281.6" r="4.2"/><circle cx="424.7" cy="282.0" r="4.2"/><circle cx="425.3" cy="282.6" r="4.2"/><circle cx="425.9" cy="283.0" r="4.2"/><circle cx="426.4" cy="283.1" r="4.2"/><circle cx="426.8" cy="283.5" r="4.2"/><circle cx="427.6" cy="284.0" r="4.2"/><circle cx="428.1" cy="284.4" r="4.2"/><circle cx="428.8" cy="284.5" r="4.2"/><circle cx="429.2" cy="284.9" r="4.2"/><circle cx="430.0" cy="285.0" r="4.2"/><circle cx="430.6" cy="285.2" r="4.2"/><circle cx="431.2" cy="286.2" r="4.2"/><circle cx="431.8" cy="286.5" r="4.2"/><circle cx="432.3" cy="286.7" r="4.2"/><circle cx="432.9" cy="287.7" r="4.2"/><circle cx="433.4" cy="287.7" r="4.2"/><circle cx="434.1" cy="288.0" r="4.2"/><circle cx="434.9" cy="289.0" r="4.2"/><circle cx="435.6" cy="289.4" r="4.2"/><circle cx="436.2" cy="289.6" r="4.2"/><circle cx="436.6" cy="290.0" r="4.2"/><circle cx="437.4" cy="290.7" r="4.2"/><circle cx="437.8" cy="291.2" r="4.2"/><circle cx="438.4" cy="291.5" r="4.2"/><circle cx="439.2" cy="292.1" r="4.2"/><circle cx="439.8" cy="292.1" r="4.2"/><circle cx="440.0" cy="292.3" r="4.2"/><circle cx="440.7" cy="292.9" r="4.2"/><circle cx="441.5" cy="292.9" r="4.2"/><circle cx="442.1" cy="292.8" r="4.2"/><circle cx="442.6" cy="293.1" r="4.2"/><circle cx="443.3" cy="293.3" r="4.2"/><circle cx="443.7" cy="293.8" r="4.2"/><circle cx="444.3" cy="293.5" r="4.2"/><circle cx="444.8" cy="293.9" r="4.2"/><circle cx="445.7" cy="293.9" r="4.2"/><circle cx="446.4" cy="294.4" r="4.2"/><circle cx="447.0" cy="294.8" r="4.2"/><circle cx="447.3" cy="294.5" r="4.2"/><circle cx="448.0" cy="294.7" r="4.2"/><circle cx="448.6" cy="295.2" r="4.2"/><circle cx="449.3" cy="295.5" r="4.2"/><circle cx="449.8" cy="295.8" r="4.2"/><circle cx="450.5" cy="296.6" r="4.2"/><circle cx="450.9" cy="296.6" r="4.2"/><circle cx="451.4" cy="297.3" r="4.2"/><circle cx="452.2" cy="297.2" r="4.2"/><circle cx="452.7" cy="297.9" r="4.2"/><circle cx="453.3" cy="298.0" r="4.2"/><circle cx="454.0" cy="298.8" r="4.2"/><circle cx="454.7" cy="299.4" r="4.2"/><circle cx="455.0" cy="299.8" r="4.2"/><circle cx="455.6" cy="299.6" r="4.2"/><circle cx="456.3" cy="300.1" r="4.2"/><circle cx="457.0" cy="300.3" r="4.2"/><circle cx="457.5" cy="300.7" r="4.2"/><circle cx="458.3" cy="301.2" r="4.2"/><circle cx="458.7" cy="301.7" r="4.2"/><circle cx="459.4" cy="301.8" r="4.2"/><circle cx="460.1" cy="302.6" r="4.2"/><circle cx="460.7" cy="303.2" r="4.2"/><circle cx="461.1" cy="303.1" r="4.2"/><circle cx="461.9" cy="303.8" r="4.2"/><circle cx="462.5" cy="304.0" r="4.2"/><circle cx="462.9" cy="304.4" r="4.2"/><circle cx="463.4" cy="304.5" r="4.2"/><circle cx="464.4" cy="305.2" r="4.2"/><circle cx="464.8" cy="305.8" r="4.2"/><circle cx="465.6" cy="306.0" r="4.2"/><circle cx="466.0" cy="306.5" r="4.2"/><circle cx="466.6" cy="306.6" r="4.2"/><circle cx="467.1" cy="306.8" r="4.2"/><circle cx="468.0" cy="307.5" r="4.2"/><circle cx="468.4" cy="307.8" r="4.2"/><circle cx="469.0" cy="308.0" r="4.2"/><circle cx="469.6" cy="308.7" r="4.2"/><circle cx="470.1" cy="309.2" r="4.2"/><circle cx="470.8" cy="309.1" r="4.2"/><circle cx="471.5" cy="309.6" r="4.2"/><circle cx="472.2" cy="310.2" r="4.2"/><circle cx="472.4" cy="310.5" r="4.2"/><circle cx="473.2" cy="310.8" r="4.2"/><circle cx="473.7" cy="311.1" r="4.2"/><circle cx="474.6" cy="311.6" r="4.2"/><circle cx="475.1" cy="311.6" r="4.2"/><circle cx="475.6" cy="312.2" r="4.2"/><circle cx="476.4" cy="312.9" r="4.2"/><circle cx="476.7" cy="313.1" r="4.2"/><circle cx="477.3" cy="313.7" r="4.2"/><circle cx="478.1" cy="313.7" r="4.2"/><circle cx="478.5" cy="314.0" r="4.2"/><circle cx="479.4" cy="314.8" r="4.2"/><circle cx="479.8" cy="314.7" r="4.2"/><circle cx="480.3" cy="315.1" r="4.2"/><circle cx="481.2" cy="315.4" r="4.2"/><circle cx="481.5" cy="315.6" r="4.2"/><circle cx="482.0" cy="316.0" r="4.2"/><circle cx="482.9" cy="316.5" r="4.2"/><circle cx="483.5" cy="317.1" r="4.2"/><circle cx="483.8" cy="317.4" r="4.2"/><circle cx="484.8" cy="317.3" r="4.2"/><circle cx="485.1" cy="317.5" r="4.2"/><circle cx="485.7" cy="318.1" r="4.2"/><circle cx="486.2" cy="318.5" r="4.2"/><circle cx="487.2" cy="318.6" r="4.2"/><circle cx="487.8" cy="318.9" r="4.2"/><circle cx="488.4" cy="319.2" r="4.2"/><circle cx="488.9" cy="319.9" r="4.2"/><circle cx="489.2" cy="319.9" r="4.2"/><circle cx="489.9" cy="320.6" r="4.2"/><circle cx="490.7" cy="320.5" r="4.2"/><circle cx="491.0" cy="321.3" r="4.2"/><circle cx="491.8" cy="321.7" r="4.2"/><circle cx="492.2" cy="321.7" r="4.2"/><circle cx="493.2" cy="322.0" r="4.2"/><circle cx="493.5" cy="322.3" r="4.2"/><circle cx="494.1" cy="322.6" r="4.2"/><circle cx="495.0" cy="323.2" r="4.2"/><circle cx="495.3" cy="323.4" r="4.2"/><circle cx="496.2" cy="324.4" r="4.2"/><circle cx="496.5" cy="324.8" r="4.2"/><circle cx="497.4" cy="324.7" r="4.2"/><circle cx="497.9" cy="325.2" r="4.2"/><circle cx="498.2" cy="325.5" r="4.2"/><circle cx="499.1" cy="325.9" r="4.2"/><circle cx="499.6" cy="326.6" r="4.2"/><circle cx="500.2" cy="326.8" r="4.2"/><circle cx="500.8" cy="327.2" r="4.2"/><circle cx="501.3" cy="327.8" r="4.2"/><circle cx="502.2" cy="328.0" r="4.2"/><circle cx="502.5" cy="328.6" r="4.2"/><circle cx="503.3" cy="329.1" r="4.2"/><circle cx="503.7" cy="328.9" r="4.2"/><circle cx="504.2" cy="329.3" r="4.2"/><circle cx="505.0" cy="330.3" r="4.2"/><circle cx="505.4" cy="330.6" r="4.2"/><circle cx="506.3" cy="330.4" r="4.2"/><circle cx="507.0" cy="331.3" r="4.2"/><circle cx="507.4" cy="331.7" r="4.2"/><circle cx="507.8" cy="332.1" r="4.2"/><circle cx="508.6" cy="332.4" r="4.2"/><circle cx="509.2" cy="332.5" r="4.2"/><circle cx="509.8" cy="333.0" r="4.2"/><circle cx="510.3" cy="333.5" r="4.2"/><circle cx="511.0" cy="333.8" r="4.2"/><circle cx="511.8" cy="334.7" r="4.2"/><circle cx="512.3" cy="335.0" r="4.2"/><circle cx="513.0" cy="335.0" r="4.2"/><circle cx="513.2" cy="335.4" r="4.2"/><circle cx="514.1" cy="336.0" r="4.2"/><circle cx="514.7" cy="336.2" r="4.2"/><circle cx="515.4" cy="336.6" r="4.2"/><circle cx="515.8" cy="337.1" r="4.2"/><circle cx="516.5" cy="337.6" r="4.2"/><circle cx="517.0" cy="338.3" r="4.2"/><circle cx="517.6" cy="338.3" r="4.2"/><circle cx="518.2" cy="338.5" r="4.2"/><circle cx="518.9" cy="339.5" r="4.2"/><circle cx="519.5" cy="339.4" r="4.2"/><circle cx="520.2" cy="340.1" r="4.2"/><circle cx="520.5" cy="340.6" r="4.2"/><circle cx="521.4" cy="341.2" r="4.2"/><circle cx="521.9" cy="341.6" r="4.2"/><circle cx="522.3" cy="342.2" r="4.2"/><circle cx="523.0" cy="342.4" r="4.2"/><circle cx="523.5" cy="343.0" r="4.2"/><circle cx="524.4" cy="343.6" r="4.2"/><circle cx="524.7" cy="344.0" r="4.2"/><circle cx="525.3" cy="344.2" r="4.2"/><circle cx="525.9" cy="345.0" r="4.2"/><circle cx="526.5" cy="345.1" r="4.2"/><circle cx="527.0" cy="345.7" r="4.2"/><circle cx="528.0" cy="346.3" r="4.2"/><circle cx="528.5" cy="346.8" r="4.2"/><circle cx="529.1" cy="347.4" r="4.2"/><circle cx="529.6" cy="347.9" r="4.2"/><circle cx="530.0" cy="348.2" r="4.2"/>
</g>
<g fill="none" stroke="#FF5500" stroke-width="3.0">
<path d="M37.7 141.2L44.3 147.8M37.7 147.8L44.3 141.2"/><path d="M38.7 145.7L45.3 152.3M38.7 152.3L45.3 145.7"/><path d="M41.2 118.6L47.8 125.2M41.2 125.2L47.8 118.6"/><path d="M43.7 122.0L50.3 128.6M43.7 128.6L50.3 122.0"/><path d="M45.4 134.2L52.0 140.8M45.4 140.8L52.0 134.2"/><path d="M48.0 134.2L54.6 140.8M48.0 140.8L54.6 134.2"/><path d="M50.5 134.2L57.1 140.8M50.5 140.8L57.1 134.2"/><path d="M53.0 177.4L59.6 184.0M53.0 184.0L59.6 177.4"/><path d="M57.5 178.6L64.1 185.2M57.5 185.2L64.1 178.6"/><path d="M63.2 179.3L69.8 185.9M63.2 185.9L69.8 179.3"/><path d="M54.9 188.8L61.5 195.4M54.9 195.4L61.5 188.8"/><path d="M61.6 219.1L68.2 225.7M61.6 225.7L68.2 219.1"/><path d="M68.3 229.5L74.9 236.1M68.3 236.1L74.9 229.5"/><path d="M59.1 251.7L65.7 258.3M59.1 258.3L65.7 251.7"/><path d="M65.7 155.1L72.3 161.7M65.7 161.7L72.3 155.1"/><path d="M70.2 164.0L76.8 170.6M70.2 170.6L76.8 164.0"/><path d="M73.2 164.0L79.8 170.6M73.2 170.6L79.8 164.0"/><path d="M74.7 144.7L81.3 151.3M74.7 151.3L81.3 144.7"/><path d="M76.2 134.2L82.8 140.8M76.2 140.8L82.8 134.2"/><path d="M79.7 134.2L86.3 140.8M79.7 140.8L86.3 134.2"/><path d="M81.9 109.5L88.5 116.1M81.9 116.1L88.5 109.5"/><path d="M83.9 99.3L90.5 105.9M83.9 105.9L90.5 99.3"/><path d="M86.4 91.7L93.0 98.3M86.4 98.3L93.0 91.7"/><path d="M85.5 88.8L92.1 95.4M85.5 95.4L92.1 88.8"/><path d="M87.4 83.7L94.0 90.3M87.4 90.3L94.0 83.7"/><path d="M88.7 79.9L95.3 86.5M88.7 86.5L95.3 79.9"/><path d="M90.6 76.1L97.2 82.7M90.6 82.7L97.2 76.1"/><path d="M91.9 67.2L98.5 73.8M91.9 73.8L98.5 67.2"/><path d="M94.4 64.7L101.0 71.3M94.4 71.3L101.0 64.7"/><path d="M96.3 60.8L102.9 67.4M96.3 67.4L102.9 60.8"/><path d="M98.2 57.0L104.8 63.6M98.2 63.6L104.8 57.0"/><path d="M101.4 57.0L108.0 63.6M101.4 63.6L108.0 57.0"/><path d="M104.6 54.5L111.2 61.1M104.6 61.1L111.2 54.5"/><path d="M107.1 51.9L113.7 58.5M107.1 58.5L113.7 51.9"/><path d="M109.0 48.8L115.6 55.4M109.0 55.4L115.6 48.8"/><path d="M111.6 50.7L118.2 57.3M111.6 57.3L118.2 50.7"/><path d="M114.1 54.5L120.7 61.1M114.1 61.1L120.7 54.5"/><path d="M116.0 59.6L122.6 66.2M116.0 66.2L122.6 59.6"/><path d="M112.8 61.5L119.4 68.1M112.8 68.1L119.4 61.5"/><path d="M114.0 61.5L120.6 68.1M114.0 68.1L120.6 61.5"/><path d="M120.9 52.0L127.5 58.6M120.9 58.6L127.5 52.0"/><path d="M118.8 57.3L125.4 63.9M118.8 63.9L125.4 57.3"/><path d="M123.1 61.5L129.7 68.1M123.1 68.1L129.7 61.5"/><path d="M127.3 62.6L133.9 69.2M127.3 69.2L133.9 62.6"/><path d="M132.6 63.7L139.2 70.3M132.6 70.3L139.2 63.7"/><path d="M130.1 64.1L136.7 70.7M130.1 70.7L136.7 64.1"/><path d="M137.4 71.1L144.0 77.7M137.4 77.7L144.0 71.1"/><path d="M137.7 71.3L144.3 77.9M137.7 77.9L144.3 71.3"/><path d="M143.7 75.1L150.3 81.7M143.7 81.7L150.3 75.1"/><path d="M131.5 82.7L138.1 89.3M131.5 89.3L138.1 82.7"/><path d="M135.8 81.7L142.4 88.3M135.8 88.3L142.4 81.7"/><path d="M140.5 84.8L147.1 91.4M140.5 91.4L147.1 84.8"/><path d="M144.2 81.7L150.8 88.3M144.2 88.3L150.8 81.7"/><path d="M148.5 75.3L155.1 81.9M148.5 81.9L155.1 75.3"/><path d="M152.7 77.4L159.3 84.0M152.7 84.0L159.3 77.4"/><path d="M153.8 81.7L160.4 88.3M153.8 88.3L160.4 81.7"/><path d="M157.0 87.0L163.6 93.6M157.0 93.6L163.6 87.0"/><path d="M161.2 90.1L167.8 96.7M161.2 96.7L167.8 90.1"/><path d="M164.9 93.3L171.5 99.9M164.9 99.9L171.5 93.3"/><path d="M146.7 86.7L153.3 93.3M146.7 93.3L153.3 86.7"/><path d="M148.7 88.7L155.3 95.3M148.7 95.3L155.3 88.7"/><path d="M242.4 142.2L249.0 148.8M242.4 148.8L249.0 142.2"/><path d="M251.0 147.0L257.6 153.6M251.0 153.6L257.6 147.0"/><path d="M240.5 149.8L247.1 156.4M240.5 156.4L247.1 149.8"/><path d="M247.2 149.8L253.8 156.4M247.2 156.4L253.8 149.8"/><path d="M252.0 149.8L258.6 156.4M252.0 156.4L258.6 149.8"/><path d="M257.7 157.4L264.3 164.0M257.7 164.0L264.3 157.4"/><path d="M264.3 159.3L270.9 165.9M264.3 165.9L270.9 159.3"/><path d="M253.9 163.2L260.5 169.8M253.9 169.8L260.5 163.2"/><path d="M259.6 165.1L266.2 171.7M259.6 171.7L266.2 165.1"/><path d="M255.8 170.8L262.4 177.4M255.8 177.4L262.4 170.8"/><path d="M262.4 170.8L269.0 177.4M262.4 177.4L269.0 170.8"/><path d="M266.3 164.1L272.9 170.7M266.3 170.7L272.9 164.1"/><path d="M165.6 96.7L172.2 103.3M165.6 103.3L172.2 96.7"/><path d="M167.5 97.2L174.1 103.8M167.5 103.8L174.1 97.2"/><path d="M168.5 98.3L175.1 104.9M168.5 104.9L175.1 98.3"/><path d="M170.3 100.9L176.9 107.5M170.3 107.5L176.9 100.9"/><path d="M171.3 100.9L177.9 107.5M171.3 107.5L177.9 100.9"/><path d="M172.8 103.0L179.4 109.6M172.8 109.6L179.4 103.0"/><path d="M174.4 105.5L181.0 112.1M174.4 112.1L181.0 105.5"/><path d="M176.1 105.9L182.7 112.5M176.1 112.5L182.7 105.9"/><path d="M177.6 107.9L184.2 114.5M177.6 114.5L184.2 107.9"/><path d="M179.3 109.5L185.9 116.1M179.3 116.1L185.9 109.5"/><path d="M180.4 110.1L187.0 116.7M180.4 116.7L187.0 110.1"/><path d="M182.4 112.3L189.0 118.9M182.4 118.9L189.0 112.3"/><path d="M183.7 111.5L190.3 118.1M183.7 118.1L190.3 111.5"/><path d="M185.6 113.9L192.2 120.5M185.6 120.5L192.2 113.9"/><path d="M186.3 113.6L192.9 120.2M186.3 120.2L192.9 113.6"/><path d="M188.1 115.5L194.7 122.1M188.1 122.1L194.7 115.5"/><path d="M190.0 117.4L196.6 124.0M190.0 124.0L196.6 117.4"/><path d="M191.1 117.2L197.7 123.8M191.1 123.8L197.7 117.2"/><path d="M193.0 118.7L199.6 125.3M193.0 125.3L199.6 118.7"/><path d="M194.1 119.0L200.7 125.6M194.1 125.6L200.7 119.0"/><path d="M195.8 119.7L202.4 126.3M195.8 126.3L202.4 119.7"/><path d="M197.5 120.7L204.1 127.3M197.5 127.3L204.1 120.7"/><path d="M198.8 123.0L205.4 129.6M198.8 129.6L205.4 123.0"/><path d="M200.0 123.5L206.6 130.1M200.0 130.1L206.6 123.5"/><path d="M202.0 125.5L208.6 132.1M202.0 132.1L208.6 125.5"/><path d="M203.0 126.8L209.6 133.4M203.0 133.4L209.6 126.8"/><path d="M204.8 128.8L211.4 135.4M204.8 135.4L211.4 128.8"/><path d="M206.0 129.0L212.6 135.6M206.0 135.6L212.6 129.0"/><path d="M208.0 129.6L214.6 136.2M208.0 136.2L214.6 129.6"/><path d="M209.2 130.4L215.8 137.0M209.2 137.0L215.8 130.4"/><path d="M210.6 132.5L217.2 139.1M210.6 139.1L217.2 132.5"/><path d="M212.5 133.9L219.1 140.5M212.5 140.5L219.1 133.9"/><path d="M213.9 135.1L220.5 141.7M213.9 141.7L220.5 135.1"/><path d="M214.8 134.9L221.4 141.5M214.8 141.5L221.4 134.9"/><path d="M216.5 136.5L223.1 143.1M216.5 143.1L223.1 136.5"/><path d="M218.5 137.2L225.1 143.8M218.5 143.8L225.1 137.2"/><path d="M220.0 138.4L226.6 145.0M220.0 145.0L226.6 138.4"/><path d="M220.9 141.0L227.5 147.6M220.9 147.6L227.5 141.0"/><path d="M222.6 142.2L229.2 148.8M222.6 148.8L229.2 142.2"/><path d="M223.9 141.9L230.5 148.5M223.9 148.5L230.5 141.9"/><path d="M225.7 142.8L232.3 149.4M225.7 149.4L232.3 142.8"/><path d="M227.5 144.6L234.1 151.2M227.5 151.2L234.1 144.6"/><path d="M228.3 146.0L234.9 152.6M228.3 152.6L234.9 146.0"/><path d="M230.1 145.4L236.7 152.0M230.1 152.0L236.7 145.4"/><path d="M231.5 145.2L238.1 151.8M231.5 151.8L238.1 145.2"/><path d="M233.4 145.6L240.0 152.2M233.4 152.2L240.0 145.6"/><path d="M234.4 146.0L241.0 152.6M234.4 152.6L241.0 146.0"/><path d="M236.2 146.1L242.8 152.7M236.2 152.7L242.8 146.1"/><path d="M266.6 165.8L273.2 172.4M266.6 172.4L273.2 165.8"/><path d="M267.2 166.5L273.8 173.1M267.2 173.1L273.8 166.5"/><path d="M267.9 166.9L274.5 173.5M267.9 173.5L274.5 166.9"/><path d="M268.6 166.5L275.2 173.1M268.6 173.1L275.2 166.5"/><path d="M269.1 167.4L275.7 174.0M269.1 174.0L275.7 167.4"/><path d="M269.8 168.2L276.4 174.8M269.8 174.8L276.4 168.2"/><path d="M270.1 168.4L276.7 175.0M270.1 175.0L276.7 168.4"/><path d="M271.0 169.5L277.6 176.1M271.0 176.1L277.6 169.5"/><path d="M271.5 169.4L278.1 176.0M271.5 176.0L278.1 169.4"/><path d="M272.3 169.4L278.9 176.0M272.3 176.0L278.9 169.4"/><path d="M272.6 170.6L279.2 177.2M272.6 177.2L279.2 170.6"/><path d="M273.5 171.2L280.1 177.8M273.5 177.8L280.1 171.2"/><path d="M274.1 170.7L280.7 177.3M274.1 177.3L280.7 170.7"/><path d="M274.4 171.3L281.0 177.9M274.4 177.9L281.0 171.3"/><path d="M275.0 172.2L281.6 178.8M275.0 178.8L281.6 172.2"/><path d="M275.7 172.6L282.3 179.2M275.7 179.2L282.3 172.6"/><path d="M276.3 171.8L282.9 178.4M276.3 178.4L282.9 171.8"/><path d="M276.9 173.5L283.5 180.1M276.9 180.1L283.5 173.5"/><path d="M277.6 173.4L284.2 180.0M277.6 180.0L284.2 173.4"/><path d="M278.1 173.6L284.7 180.2M278.1 180.2L284.7 173.6"/><path d="M278.8 174.2L285.4 180.8M278.8 180.8L285.4 174.2"/><path d="M279.1 173.9L285.7 180.5M279.1 180.5L285.7 173.9"/><path d="M279.9 175.3L286.5 181.9M279.9 181.9L286.5 175.3"/><path d="M280.7 174.9L287.3 181.5M280.7 181.5L287.3 174.9"/><path d="M281.1 176.4L287.7 183.0M281.1 183.0L287.7 176.4"/><path d="M281.8 177.1L288.4 183.7M281.8 183.7L288.4 177.1"/><path d="M282.2 177.1L288.8 183.7M282.2 183.7L288.8 177.1"/><path d="M283.0 176.2L289.6 182.8M283.0 182.8L289.6 176.2"/><path d="M283.4 178.0L290.0 184.6M283.4 184.6L290.0 178.0"/><path d="M284.1 178.0L290.7 184.6M284.1 184.6L290.7 178.0"/><path d="M284.8 178.1L291.4 184.7M284.8 184.7L291.4 178.1"/><path d="M285.3 179.1L291.9 185.7M285.3 185.7L291.9 179.1"/><path d="M285.9 178.8L292.5 185.4M285.9 185.4L292.5 178.8"/><path d="M286.6 179.6L293.2 186.2M286.6 186.2L293.2 179.6"/><path d="M287.1 179.8L293.7 186.4M287.1 186.4L293.7 179.8"/><path d="M287.7 180.2L294.3 186.8M287.7 186.8L294.3 180.2"/><path d="M288.1 181.2L294.7 187.8M288.1 187.8L294.7 181.2"/><path d="M288.9 180.7L295.5 187.3M288.9 187.3L295.5 180.7"/><path d="M289.5 181.3L296.1 187.9M289.5 187.9L296.1 181.3"/><path d="M289.9 181.6L296.5 188.2M289.9 188.2L296.5 181.6"/><path d="M290.9 182.6L297.5 189.2M290.9 189.2L297.5 182.6"/><path d="M291.3 183.6L297.9 190.2M291.3 190.2L297.9 183.6"/><path d="M291.7 183.1L298.3 189.7M291.7 189.7L298.3 183.1"/><path d="M292.4 183.3L299.0 189.9M292.4 189.9L299.0 183.3"/><path d="M292.9 184.8L299.5 191.4M292.9 191.4L299.5 184.8"/><path d="M293.7 185.2L300.3 191.8M293.7 191.8L300.3 185.2"/><path d="M294.2 184.7L300.8 191.3M294.2 191.3L300.8 184.7"/><path d="M294.8 186.0L301.4 192.6M294.8 192.6L301.4 186.0"/><path d="M295.5 185.6L302.1 192.2M295.5 192.2L302.1 185.6"/><path d="M296.0 185.3L302.6 191.9M296.0 191.9L302.6 185.3"/><path d="M296.8 187.1L303.4 193.7M296.8 193.7L303.4 187.1"/><path d="M296.9 186.7L303.5 193.3M296.9 193.3L303.5 186.7"/><path d="M297.5 185.8L304.1 192.4M297.5 192.4L304.1 185.8"/><path d="M298.0 187.5L304.6 194.1M298.0 194.1L304.6 187.5"/><path d="M299.0 187.2L305.6 193.8M299.0 193.8L305.6 187.2"/><path d="M299.6 187.3L306.2 193.9M299.6 193.9L306.2 187.3"/><path d="M300.3 187.4L306.9 194.0M300.3 194.0L306.9 187.4"/><path d="M300.9 187.9L307.5 194.5M300.9 194.5L307.5 187.9"/><path d="M301.7 188.5L308.3 195.1M301.7 195.1L308.3 188.5"/><path d="M302.3 189.5L308.9 196.1M302.3 196.1L308.9 189.5"/><path d="M303.0 189.8L309.6 196.4M303.0 196.4L309.6 189.8"/><path d="M303.6 190.3L310.2 196.9M303.6 196.9L310.2 190.3"/><path d="M304.4 190.2L311.0 196.8M304.4 196.8L311.0 190.2"/><path d="M304.9 190.2L311.5 196.8M304.9 196.8L311.5 190.2"/><path d="M305.9 190.1L312.5 196.7M305.9 196.7L312.5 190.1"/><path d="M306.6 190.5L313.2 197.1M306.6 197.1L313.2 190.5"/><path d="M307.4 191.5L314.0 198.1M307.4 198.1L314.0 191.5"/><path d="M308.0 192.6L314.6 199.2M308.0 199.2L314.6 192.6"/><path d="M308.4 192.0L315.0 198.6M308.4 198.6L315.0 192.0"/><path d="M309.4 192.8L316.0 199.4M309.4 199.4L316.0 192.8"/><path d="M309.9 194.0L316.5 200.6M309.9 200.6L316.5 194.0"/><path d="M310.9 192.9L317.5 199.5M310.9 199.5L317.5 192.9"/><path d="M311.4 194.5L318.0 201.1M311.4 201.1L318.0 194.5"/><path d="M312.0 194.9L318.6 201.5M312.0 201.5L318.6 194.9"/><path d="M312.9 194.9L319.5 201.5M312.9 201.5L319.5 194.9"/><path d="M313.4 195.5L320.0 202.1M313.4 202.1L320.0 195.5"/><path d="M314.2 195.0L320.8 201.6M314.2 201.6L320.8 195.0"/><path d="M314.8 196.9L321.4 203.5M314.8 203.5L321.4 196.9"/><path d="M315.4 195.5L322.0 202.1M315.4 202.1L322.0 195.5"/><path d="M316.3 197.5L322.9 204.1M316.3 204.1L322.9 197.5"/><path d="M317.2 197.3L323.8 203.9M317.2 203.9L323.8 197.3"/><path d="M317.6 198.0L324.2 204.6M317.6 204.6L324.2 198.0"/><path d="M318.2 198.5L324.8 205.1M318.2 205.1L324.8 198.5"/><path d="M319.2 198.1L325.8 204.7M319.2 204.7L325.8 198.1"/><path d="M319.6 198.2L326.2 204.8M319.6 204.8L326.2 198.2"/><path d="M320.4 199.3L327.0 205.9M320.4 205.9L327.0 199.3"/><path d="M321.0 200.6L327.6 207.2M321.0 207.2L327.6 200.6"/><path d="M321.9 200.6L328.5 207.2M321.9 207.2L328.5 200.6"/><path d="M322.6 201.0L329.2 207.6M322.6 207.6L329.2 201.0"/><path d="M323.2 201.1L329.8 207.7M323.2 207.7L329.8 201.1"/><path d="M324.0 200.6L330.6 207.2M324.0 207.2L330.6 200.6"/><path d="M324.6 202.2L331.2 208.8M324.6 208.8L331.2 202.2"/><path d="M325.4 201.4L332.0 208.0M325.4 208.0L332.0 201.4"/><path d="M326.0 201.5L332.6 208.1M326.0 208.1L332.6 201.5"/><path d="M326.8 202.9L333.4 209.5M326.8 209.5L333.4 202.9"/><path d="M327.4 203.3L334.0 209.9M327.4 209.9L334.0 203.3"/><path d="M328.0 202.5L334.6 209.1M328.0 209.1L334.6 202.5"/><path d="M328.8 203.5L335.4 210.1M328.8 210.1L335.4 203.5"/><path d="M329.5 204.4L336.1 211.0M329.5 211.0L336.1 204.4"/><path d="M330.3 205.1L336.9 211.7M330.3 211.7L336.9 205.1"/><path d="M331.1 205.3L337.7 211.9M331.1 211.9L337.7 205.3"/><path d="M331.7 205.4L338.3 212.0M331.7 212.0L338.3 205.4"/><path d="M332.2 205.4L338.8 212.0M332.2 212.0L338.8 205.4"/><path d="M333.1 206.7L339.7 213.3M333.1 213.3L339.7 206.7"/><path d="M334.0 205.7L340.6 212.3M334.0 212.3L340.6 205.7"/><path d="M334.5 207.1L341.1 213.7M334.5 213.7L341.1 207.1"/><path d="M335.1 207.2L341.7 213.8M335.1 213.8L341.7 207.2"/><path d="M335.8 208.7L342.4 215.3M335.8 215.3L342.4 208.7"/><path d="M336.8 207.8L343.4 214.4M336.8 214.4L343.4 207.8"/><path d="M336.7 207.8L343.3 214.4M336.7 214.4L343.3 207.8"/><path d="M337.2 208.4L343.8 215.0M337.2 215.0L343.8 208.4"/><path d="M337.9 209.0L344.5 215.6M337.9 215.6L344.5 209.0"/><path d="M338.5 208.6L345.1 215.2M338.5 215.2L345.1 208.6"/><path d="M339.2 208.9L345.8 215.5M339.2 215.5L345.8 208.9"/><path d="M339.9 209.8L346.5 216.4M339.9 216.4L346.5 209.8"/><path d="M340.4 209.5L347.0 216.1M340.4 216.1L347.0 209.5"/><path d="M340.9 210.0L347.5 216.6M340.9 216.6L347.5 210.0"/><path d="M341.4 210.3L348.0 216.9M341.4 216.9L348.0 210.3"/><path d="M342.2 210.5L348.8 217.1M342.2 217.1L348.8 210.5"/><path d="M342.9 210.7L349.5 217.3M342.9 217.3L349.5 210.7"/><path d="M343.5 211.0L350.1 217.6M343.5 217.6L350.1 211.0"/><path d="M343.7 211.4L350.3 218.0M343.7 218.0L350.3 211.4"/><path d="M344.5 212.0L351.1 218.6M344.5 218.6L351.1 212.0"/><path d="M345.1 212.3L351.7 218.9M345.1 218.9L351.7 212.3"/><path d="M345.5 212.5L352.1 219.1M345.5 219.1L352.1 212.5"/><path d="M346.3 212.9L352.9 219.5M346.3 219.5L352.9 212.9"/><path d="M346.7 213.4L353.3 220.0M346.7 220.0L353.3 213.4"/><path d="M347.6 213.0L354.2 219.6M347.6 219.6L354.2 213.0"/><path d="M348.1 213.9L354.7 220.5M348.1 220.5L354.7 213.9"/><path d="M348.7 214.0L355.3 220.6M348.7 220.6L355.3 214.0"/><path d="M349.3 214.1L355.9 220.7M349.3 220.7L355.9 214.1"/><path d="M349.7 214.6L356.3 221.2M349.7 221.2L356.3 214.6"/><path d="M350.6 214.6L357.2 221.2M350.6 221.2L357.2 214.6"/><path d="M351.1 214.9L357.7 221.5M351.1 221.5L357.7 214.9"/><path d="M351.6 215.2L358.2 221.8M351.6 221.8L358.2 215.2"/><path d="M352.4 215.7L359.0 222.3M352.4 222.3L359.0 215.7"/><path d="M352.9 216.2L359.5 222.8M352.9 222.8L359.5 216.2"/><path d="M353.4 216.0L360.0 222.6M353.4 222.6L360.0 216.0"/><path d="M354.0 216.2L360.6 222.8M354.0 222.8L360.6 216.2"/><path d="M354.7 216.9L361.3 223.5M354.7 223.5L361.3 216.9"/><path d="M355.2 216.9L361.8 223.5M355.2 223.5L361.8 216.9"/><path d="M355.8 217.1L362.4 223.7M355.8 223.7L362.4 217.1"/><path d="M356.4 217.7L363.0 224.3M356.4 224.3L363.0 217.7"/><path d="M357.1 218.2L363.7 224.8M357.1 224.8L363.7 218.2"/><path d="M357.7 218.1L364.3 224.7M357.7 224.7L364.3 218.1"/><path d="M358.4 218.2L365.0 224.8M358.4 224.8L365.0 218.2"/><path d="M358.8 219.0L365.4 225.6M358.8 225.6L365.4 219.0"/><path d="M359.4 219.3L366.0 225.9M359.4 225.9L366.0 219.3"/><path d="M360.0 219.2L366.6 225.8M360.0 225.8L366.6 219.2"/><path d="M360.7 219.5L367.3 226.1M360.7 226.1L367.3 219.5"/><path d="M361.4 220.1L368.0 226.7M361.4 226.7L368.0 220.1"/><path d="M362.0 220.0L368.6 226.6M362.0 226.6L368.6 220.0"/><path d="M362.5 220.6L369.1 227.2M362.5 227.2L369.1 220.6"/><path d="M363.1 220.9L369.7 227.5M363.1 227.5L369.7 220.9"/><path d="M363.7 220.9L370.3 227.5M363.7 227.5L370.3 220.9"/><path d="M364.4 221.5L371.0 228.1M364.4 228.1L371.0 221.5"/><path d="M364.8 222.0L371.4 228.6M364.8 228.6L371.4 222.0"/><path d="M365.6 222.3L372.2 228.9M365.6 228.9L372.2 222.3"/><path d="M366.3 222.5L372.9 229.1M366.3 229.1L372.9 222.5"/><path d="M366.8 222.3L373.4 228.9M366.8 228.9L373.4 222.3"/><path d="M367.1 223.2L373.7 229.8M367.1 229.8L373.7 223.2"/><path d="M368.1 223.3L374.7 229.9M368.1 229.9L374.7 223.3"/><path d="M368.6 223.4L375.2 230.0M368.6 230.0L375.2 223.4"/><path d="M369.1 224.2L375.7 230.8M369.1 230.8L375.7 224.2"/><path d="M369.6 223.9L376.2 230.5M369.6 230.5L376.2 223.9"/><path d="M370.3 224.7L376.9 231.3M370.3 231.3L376.9 224.7"/><path d="M370.9 224.7L377.5 231.3M370.9 231.3L377.5 224.7"/><path d="M371.4 225.4L378.0 232.0M371.4 232.0L378.0 225.4"/><path d="M372.3 225.1L378.9 231.7M372.3 231.7L378.9 225.1"/><path d="M372.7 225.7L379.3 232.3M372.7 232.3L379.3 225.7"/><path d="M373.2 226.4L379.8 233.0M373.2 233.0L379.8 226.4"/><path d="M374.1 226.1L380.7 232.7M374.1 232.7L380.7 226.1"/><path d="M374.4 226.6L381.0 233.2M374.4 233.2L381.0 226.6"/><path d="M375.0 227.4L381.6 234.0M375.0 234.0L381.6 227.4"/><path d="M375.6 227.7L382.2 234.3M375.6 234.3L382.2 227.7"/><path d="M376.2 227.6L382.8 234.2M376.2 234.2L382.8 227.6"/><path d="M376.9 228.0L383.5 234.6M376.9 234.6L383.5 228.0"/><path d="M377.5 228.3L384.1 234.9M377.5 234.9L384.1 228.3"/><path d="M378.2 228.5L384.8 235.1M378.2 235.1L384.8 228.5"/><path d="M378.8 229.3L385.4 235.9M378.8 235.9L385.4 229.3"/><path d="M379.1 229.5L385.7 236.1M379.1 236.1L385.7 229.5"/><path d="M379.8 229.4L386.4 236.0M379.8 236.0L386.4 229.4"/><path d="M380.7 229.7L387.3 236.3M380.7 236.3L387.3 229.7"/><path d="M381.3 230.5L387.9 237.1M381.3 237.1L387.9 230.5"/><path d="M381.5 230.6L388.1 237.2M381.5 237.2L388.1 230.6"/><path d="M382.1 230.8L388.7 237.4M382.1 237.4L388.7 230.8"/><path d="M382.8 231.5L389.4 238.1M382.8 238.1L389.4 231.5"/><path d="M383.7 231.4L390.3 238.0M383.7 238.0L390.3 231.4"/><path d="M384.3 231.6L390.9 238.2M384.3 238.2L390.9 231.6"/><path d="M384.8 232.0L391.4 238.6M384.8 238.6L391.4 232.0"/><path d="M385.5 232.2L392.1 238.8M385.5 238.8L392.1 232.2"/><path d="M385.8 232.7L392.4 239.3M385.8 239.3L392.4 232.7"/><path d="M386.5 233.2L393.1 239.8M386.5 239.8L393.1 233.2"/><path d="M386.9 233.2L393.5 239.8M386.9 239.8L393.5 233.2"/><path d="M387.5 233.8L394.1 240.4M387.5 240.4L394.1 233.8"/><path d="M388.2 234.3L394.8 240.9M388.2 240.9L394.8 234.3"/><path d="M388.8 234.1L395.4 240.7M388.8 240.7L395.4 234.1"/><path d="M389.4 234.4L396.0 241.0M389.4 241.0L396.0 234.4"/><path d="M390.1 235.0L396.7 241.6M390.1 241.6L396.7 235.0"/><path d="M390.6 235.2L397.2 241.8M390.6 241.8L397.2 235.2"/><path d="M391.4 235.6L398.0 242.2M391.4 242.2L398.0 235.6"/><path d="M392.0 235.9L398.6 242.5M392.0 242.5L398.6 235.9"/><path d="M392.3 236.3L398.9 242.9M392.3 242.9L398.9 236.3"/><path d="M393.2 236.4L399.8 243.0M393.2 243.0L399.8 236.4"/><path d="M393.7 236.9L400.3 243.5M393.7 243.5L400.3 236.9"/><path d="M394.4 237.2L401.0 243.8M394.4 243.8L401.0 237.2"/><path d="M394.8 237.5L401.4 244.1M394.8 244.1L401.4 237.5"/><path d="M395.3 237.8L401.9 244.4M395.3 244.4L401.9 237.8"/><path d="M396.1 238.2L402.7 244.8M396.1 244.8L402.7 238.2"/><path d="M396.7 238.5L403.3 245.1M396.7 245.1L403.3 238.5"/><path d="M397.4 238.7L404.0 245.3M397.4 245.3L404.0 238.7"/><path d="M398.1 238.8L404.7 245.4M398.1 245.4L404.7 238.8"/><path d="M398.6 239.0L405.2 245.6M398.6 245.6L405.2 239.0"/><path d="M399.2 239.3L405.8 245.9M399.2 245.9L405.8 239.3"/><path d="M399.5 239.6L406.1 246.2M399.5 246.2L406.1 239.6"/><path d="M400.4 240.0L407.0 246.6M400.4 246.6L407.0 240.0"/><path d="M401.1 240.5L407.7 247.1M401.1 247.1L407.7 240.5"/><path d="M401.3 240.9L407.9 247.5M401.3 247.5L407.9 240.9"/><path d="M401.9 240.7L408.5 247.3M401.9 247.3L408.5 240.7"/><path d="M402.7 241.2L409.3 247.8M402.7 247.8L409.3 241.2"/><path d="M403.4 241.4L410.0 248.0M403.4 248.0L410.0 241.4"/><path d="M404.0 241.9L410.6 248.5M404.0 248.5L410.6 241.9"/><path d="M404.5 242.0L411.1 248.6M404.5 248.6L411.1 242.0"/><path d="M405.3 241.7L411.9 248.3M405.3 248.3L411.9 241.7"/><path d="M405.5 242.0L412.1 248.6M405.5 248.6L412.1 242.0"/><path d="M406.2 242.8L412.8 249.4M406.2 249.4L412.8 242.8"/><path d="M406.7 242.9L413.3 249.5M406.7 249.5L413.3 242.9"/><path d="M407.6 242.8L414.2 249.4M407.6 249.4L414.2 242.8"/><path d="M408.1 243.0L414.7 249.6M408.1 249.6L414.7 243.0"/><path d="M408.6 243.8L415.2 250.4M408.6 250.4L415.2 243.8"/><path d="M409.4 243.9L416.0 250.5M409.4 250.5L416.0 243.9"/><path d="M410.0 244.1L416.6 250.7M410.0 250.7L416.6 244.1"/><path d="M410.3 244.4L416.9 251.0M410.3 251.0L416.9 244.4"/><path d="M411.1 244.3L417.7 250.9M411.1 250.9L417.7 244.3"/><path d="M411.6 245.1L418.2 251.7M411.6 251.7L418.2 245.1"/><path d="M412.2 245.1L418.8 251.7M412.2 251.7L418.8 245.1"/><path d="M412.9 245.5L419.5 252.1M412.9 252.1L419.5 245.5"/><path d="M413.6 245.6L420.2 252.2M413.6 252.2L420.2 245.6"/><path d="M414.2 245.6L420.8 252.2M414.2 252.2L420.8 245.6"/><path d="M414.8 246.3L421.4 252.9M414.8 252.9L421.4 246.3"/><path d="M415.2 246.2L421.8 252.8M415.2 252.8L421.8 246.2"/><path d="M416.1 246.3L422.7 252.9M416.1 252.9L422.7 246.3"/><path d="M416.5 246.8L423.1 253.4M416.5 253.4L423.1 246.8"/><path d="M417.2 247.1L423.8 253.7M417.2 253.7L423.8 247.1"/><path d="M417.6 247.2L424.2 253.8M417.6 253.8L424.2 247.2"/><path d="M418.4 247.8L425.0 254.4M418.4 254.4L425.0 247.8"/><path d="M418.7 247.7L425.3 254.3M418.7 254.3L425.3 247.7"/><path d="M419.6 248.4L426.2 255.0M419.6 255.0L426.2 248.4"/><path d="M420.1 248.4L426.7 255.0M420.1 255.0L426.7 248.4"/><path d="M420.7 248.9L427.3 255.5M420.7 255.5L427.3 248.9"/><path d="M421.1 248.6L427.7 255.2M421.1 255.2L427.7 248.6"/><path d="M421.9 249.0L428.5 255.6M421.9 255.6L428.5 249.0"/><path d="M422.7 249.2L429.3 255.8M422.7 255.8L429.3 249.2"/><path d="M423.1 249.7L429.7 256.3M423.1 256.3L429.7 249.7"/><path d="M423.7 250.0L430.3 256.6M423.7 256.6L430.3 250.0"/><path d="M424.3 250.2L430.9 256.8M424.3 256.8L430.9 250.2"/><path d="M424.9 250.4L431.5 257.0M424.9 257.0L431.5 250.4"/><path d="M425.4 250.8L432.0 257.4M425.4 257.4L432.0 250.8"/><path d="M426.0 251.0L432.6 257.6M426.0 257.6L432.6 251.0"/><path d="M426.5 251.3L433.1 257.9M426.5 257.9L433.1 251.3"/><path d="M427.3 251.4L433.9 258.0M427.3 258.0L433.9 251.4"/><path d="M427.8 251.8L434.4 258.4M427.8 258.4L434.4 251.8"/><path d="M428.4 251.8L435.0 258.4M428.4 258.4L435.0 251.8"/><path d="M429.1 252.2L435.7 258.8M429.1 258.8L435.7 252.2"/><path d="M429.6 252.1L436.2 258.7M429.6 258.7L436.2 252.1"/><path d="M430.5 252.5L437.1 259.1M430.5 259.1L437.1 252.5"/><path d="M430.9 253.0L437.5 259.6M430.9 259.6L437.5 253.0"/><path d="M431.6 253.1L438.2 259.7M431.6 259.7L438.2 253.1"/><path d="M432.2 253.8L438.8 260.4M432.2 260.4L438.8 253.8"/><path d="M432.7 253.5L439.3 260.1M432.7 260.1L439.3 253.5"/><path d="M433.1 254.1L439.7 260.7M433.1 260.7L439.7 254.1"/><path d="M433.8 254.6L440.4 261.2M433.8 261.2L440.4 254.6"/><path d="M434.6 254.5L441.2 261.1M434.6 261.1L441.2 254.5"/><path d="M435.1 255.0L441.7 261.6M435.1 261.6L441.7 255.0"/><path d="M435.7 255.5L442.3 262.1M435.7 262.1L442.3 255.5"/><path d="M436.1 255.4L442.7 262.0M436.1 262.0L442.7 255.4"/><path d="M436.8 255.8L443.4 262.4M436.8 262.4L443.4 255.8"/><path d="M437.4 256.1L444.0 262.7M437.4 262.7L444.0 256.1"/><path d="M437.9 256.0L444.5 262.6M437.9 262.6L444.5 256.0"/><path d="M438.5 256.3L445.1 262.9M438.5 262.9L445.1 256.3"/><path d="M439.3 257.1L445.9 263.7M439.3 263.7L445.9 257.1"/><path d="M440.0 256.9L446.6 263.5M440.0 263.5L446.6 256.9"/><path d="M440.3 257.5L446.9 264.1M440.3 264.1L446.9 257.5"/><path d="M441.0 257.9L447.6 264.5M441.0 264.5L447.6 257.9"/><path d="M441.6 258.3L448.2 264.9M441.6 264.9L448.2 258.3"/><path d="M442.2 258.1L448.8 264.7M442.2 264.7L448.8 258.1"/><path d="M443.0 258.8L449.6 265.4M443.0 265.4L449.6 258.8"/><path d="M443.4 258.8L450.0 265.4M443.4 265.4L450.0 258.8"/><path d="M444.2 259.0L450.8 265.6M444.2 265.6L450.8 259.0"/><path d="M444.9 259.0L451.5 265.6M444.9 265.6L451.5 259.0"/><path d="M445.5 259.8L452.1 266.4M445.5 266.4L452.1 259.8"/><path d="M445.9 260.0L452.5 266.6M445.9 266.6L452.5 260.0"/><path d="M446.4 260.5L453.0 267.1M446.4 267.1L453.0 260.5"/><path d="M446.9 260.3L453.5 266.9M446.9 266.9L453.5 260.3"/><path d="M447.8 260.5L454.4 267.1M447.8 267.1L454.4 260.5"/><path d="M448.4 260.7L455.0 267.3M448.4 267.3L455.0 260.7"/><path d="M449.1 261.2L455.7 267.8M449.1 267.8L455.7 261.2"/><path d="M449.6 261.7L456.2 268.3M449.6 268.3L456.2 261.7"/><path d="M449.9 262.0L456.5 268.6M449.9 268.6L456.5 262.0"/><path d="M450.6 261.9L457.2 268.5M450.6 268.5L457.2 261.9"/><path d="M451.4 262.3L458.0 268.9M451.4 268.9L458.0 262.3"/><path d="M452.0 262.9L458.6 269.5M452.0 269.5L458.6 262.9"/><path d="M452.6 263.2L459.2 269.8M452.6 269.8L459.2 263.2"/><path d="M453.1 263.1L459.7 269.7M453.1 269.7L459.7 263.1"/><path d="M453.8 263.6L460.4 270.2M453.8 270.2L460.4 263.6"/><path d="M454.2 263.6L460.8 270.2M454.2 270.2L460.8 263.6"/><path d="M454.8 264.1L461.4 270.7M454.8 270.7L461.4 264.1"/><path d="M455.3 264.5L461.9 271.1M455.3 271.1L461.9 264.5"/><path d="M456.1 264.6L462.7 271.2M456.1 271.2L462.7 264.6"/><path d="M456.7 264.6L463.3 271.2M456.7 271.2L463.3 264.6"/><path d="M457.5 265.0L464.1 271.6M457.5 271.6L464.1 265.0"/><path d="M457.9 265.5L464.5 272.1M457.9 272.1L464.5 265.5"/><path d="M458.7 265.7L465.3 272.3M458.7 272.3L465.3 265.7"/><path d="M459.2 265.4L465.8 272.0M459.2 272.0L465.8 265.4"/><path d="M459.9 266.1L466.5 272.7M459.9 272.7L466.5 266.1"/><path d="M460.3 266.3L466.9 272.9M460.3 272.9L466.9 266.3"/><path d="M461.0 266.1L467.6 272.7M461.0 272.7L467.6 266.1"/><path d="M461.6 266.4L468.2 273.0M461.6 273.0L468.2 266.4"/><path d="M462.2 266.8L468.8 273.4M462.2 273.4L468.8 266.8"/><path d="M462.6 266.9L469.2 273.5M462.6 273.5L469.2 266.9"/><path d="M463.4 267.5L470.0 274.1M463.4 274.1L470.0 267.5"/><path d="M463.9 267.4L470.5 274.0M463.9 274.0L470.5 267.4"/><path d="M464.6 267.6L471.2 274.2M464.6 274.2L471.2 267.6"/><path d="M465.0 267.9L471.6 274.5M465.0 274.5L471.6 267.9"/><path d="M465.9 268.4L472.5 275.0M465.9 275.0L472.5 268.4"/><path d="M466.2 268.5L472.8 275.1M466.2 275.1L472.8 268.5"/><path d="M467.0 268.3L473.6 274.9M467.0 274.9L473.6 268.3"/><path d="M467.6 269.0L474.2 275.6M467.6 275.6L474.2 269.0"/><path d="M468.2 268.8L474.8 275.4M468.2 275.4L474.8 268.8"/><path d="M468.6 269.2L475.2 275.8M468.6 275.8L475.2 269.2"/><path d="M469.3 269.5L475.9 276.1M469.3 276.1L475.9 269.5"/><path d="M470.0 269.7L476.6 276.3M470.0 276.3L476.6 269.7"/><path d="M470.3 270.2L476.9 276.8M470.3 276.8L476.9 270.2"/><path d="M471.3 270.1L477.9 276.7M471.3 276.7L477.9 270.1"/><path d="M471.7 270.4L478.3 277.0M471.7 277.0L478.3 270.4"/><path d="M472.1 270.8L478.7 277.4M472.1 277.4L478.7 270.8"/><path d="M472.9 270.9L479.5 277.5M472.9 277.5L479.5 270.9"/><path d="M473.4 271.0L480.0 277.6M473.4 277.6L480.0 271.0"/><path d="M474.0 271.3L480.6 277.9M474.0 277.9L480.6 271.3"/><path d="M474.6 271.4L481.2 278.0M474.6 278.0L481.2 271.4"/><path d="M475.4 271.9L482.0 278.5M475.4 278.5L482.0 271.9"/><path d="M476.0 271.8L482.6 278.4M476.0 278.4L482.6 271.8"/><path d="M476.5 272.0L483.1 278.6M476.5 278.6L483.1 272.0"/><path d="M477.2 272.0L483.8 278.6M477.2 278.6L483.8 272.0"/><path d="M477.8 272.7L484.4 279.3M477.8 279.3L484.4 272.7"/><path d="M478.4 272.4L485.0 279.0M478.4 279.0L485.0 272.4"/><path d="M478.9 272.6L485.5 279.2M478.9 279.2L485.5 272.6"/><path d="M479.3 273.2L485.9 279.8M479.3 279.8L485.9 273.2"/><path d="M480.3 273.3L486.9 279.9M480.3 279.9L486.9 273.3"/><path d="M480.6 273.7L487.2 280.3M480.6 280.3L487.2 273.7"/><path d="M481.2 274.0L487.8 280.6M481.2 280.6L487.8 274.0"/><path d="M481.9 274.3L488.5 280.9M481.9 280.9L488.5 274.3"/><path d="M482.7 274.0L489.3 280.6M482.7 280.6L489.3 274.0"/><path d="M483.0 274.2L489.6 280.8M483.0 280.8L489.6 274.2"/><path d="M483.5 274.9L490.1 281.5M483.5 281.5L490.1 274.9"/><path d="M484.4 275.0L491.0 281.6M484.4 281.6L491.0 275.0"/><path d="M484.8 275.2L491.4 281.8M484.8 281.8L491.4 275.2"/><path d="M485.6 275.5L492.2 282.1M485.6 282.1L492.2 275.5"/><path d="M486.2 275.6L492.8 282.2M486.2 282.2L492.8 275.6"/><path d="M486.7 275.7L493.3 282.3M486.7 282.3L493.3 275.7"/><path d="M487.5 276.4L494.1 283.0M487.5 283.0L494.1 276.4"/><path d="M487.8 276.0L494.4 282.6M487.8 282.6L494.4 276.0"/><path d="M488.6 276.4L495.2 283.0M488.6 283.0L495.2 276.4"/><path d="M489.0 276.6L495.6 283.2M489.0 283.2L495.6 276.6"/><path d="M489.6 277.2L496.2 283.8M489.6 283.8L496.2 277.2"/><path d="M490.3 277.6L496.9 284.2M490.3 284.2L496.9 277.6"/><path d="M491.0 277.8L497.6 284.4M491.0 284.4L497.6 277.8"/><path d="M491.6 277.6L498.2 284.2M491.6 284.2L498.2 277.6"/><path d="M492.0 278.0L498.6 284.6M492.0 284.6L498.6 278.0"/><path d="M492.8 278.0L499.4 284.6M492.8 284.6L499.4 278.0"/><path d="M493.2 278.6L499.8 285.2M493.2 285.2L499.8 278.6"/><path d="M493.8 279.1L500.4 285.7M493.8 285.7L500.4 279.1"/><path d="M494.3 279.0L500.9 285.6M494.3 285.6L500.9 279.0"/><path d="M495.3 279.2L501.9 285.8M495.3 285.8L501.9 279.2"/><path d="M495.6 279.6L502.2 286.2M495.6 286.2L502.2 279.6"/><path d="M496.4 279.6L503.0 286.2M496.4 286.2L503.0 279.6"/><path d="M497.1 279.9L503.7 286.5M497.1 286.5L503.7 279.9"/><path d="M497.6 280.0L504.2 286.6M497.6 286.6L504.2 280.0"/><path d="M498.2 280.6L504.8 287.2M498.2 287.2L504.8 280.6"/><path d="M498.5 280.6L505.1 287.2M498.5 287.2L505.1 280.6"/><path d="M499.4 280.7L506.0 287.3M499.4 287.3L506.0 280.7"/><path d="M499.7 280.8L506.3 287.4M499.7 287.4L506.3 280.8"/><path d="M500.7 281.5L507.3 288.1M500.7 288.1L507.3 281.5"/><path d="M501.2 281.7L507.8 288.3M501.2 288.3L507.8 281.7"/><path d="M501.9 281.7L508.5 288.3M501.9 288.3L508.5 281.7"/><path d="M502.3 282.0L508.9 288.6M502.3 288.6L508.9 282.0"/><path d="M502.7 282.1L509.3 288.7M502.7 288.7L509.3 282.1"/><path d="M503.4 282.0L510.0 288.6M503.4 288.6L510.0 282.0"/><path d="M503.9 282.5L510.5 289.1M503.9 289.1L510.5 282.5"/><path d="M504.7 283.1L511.3 289.7M504.7 289.7L511.3 283.1"/><path d="M505.5 283.1L512.1 289.7M505.5 289.7L512.1 283.1"/><path d="M506.1 282.9L512.7 289.5M506.1 289.5L512.7 282.9"/><path d="M506.4 283.7L513.0 290.3M506.4 290.3L513.0 283.7"/><path d="M507.2 283.3L513.8 289.9M507.2 289.9L513.8 283.3"/><path d="M507.8 284.0L514.4 290.6M507.8 290.6L514.4 284.0"/><path d="M508.3 283.9L514.9 290.5M508.3 290.5L514.9 283.9"/><path d="M508.8 283.9L515.4 290.5M508.8 290.5L515.4 283.9"/><path d="M509.6 284.3L516.2 290.9M509.6 290.9L516.2 284.3"/><path d="M510.3 284.3L516.9 290.9M510.3 290.9L516.9 284.3"/><path d="M510.9 284.4L517.5 291.0M510.9 291.0L517.5 284.4"/><path d="M511.4 284.8L518.0 291.4M511.4 291.4L518.0 284.8"/><path d="M512.1 285.4L518.7 292.0M512.1 292.0L518.7 285.4"/><path d="M512.6 285.4L519.2 292.0M512.6 292.0L519.2 285.4"/><path d="M513.2 285.4L519.8 292.0M513.2 292.0L519.8 285.4"/><path d="M513.9 285.5L520.5 292.1M513.9 292.1L520.5 285.5"/><path d="M514.1 286.1L520.7 292.7M514.1 292.7L520.7 286.1"/><path d="M514.8 286.5L521.4 293.1M514.8 293.1L521.4 286.5"/><path d="M515.4 286.1L522.0 292.7M515.4 292.7L522.0 286.1"/><path d="M516.0 286.3L522.6 292.9M516.0 292.9L522.6 286.3"/><path d="M516.9 287.0L523.5 293.6M516.9 293.6L523.5 287.0"/><path d="M517.4 287.1L524.0 293.7M517.4 293.7L524.0 287.1"/><path d="M518.0 287.4L524.6 294.0M518.0 294.0L524.6 287.4"/><path d="M518.4 287.3L525.0 293.9M518.4 293.9L525.0 287.3"/><path d="M519.1 287.4L525.7 294.0M519.1 294.0L525.7 287.4"/><path d="M519.8 287.6L526.4 294.2M519.8 294.2L526.4 287.6"/><path d="M520.3 287.9L526.9 294.5M520.3 294.5L526.9 287.9"/><path d="M521.0 288.3L527.6 294.9M521.0 294.9L527.6 288.3"/><path d="M521.4 288.2L528.0 294.8M521.4 294.8L528.0 288.2"/><path d="M522.0 288.8L528.6 295.4M522.0 295.4L528.6 288.8"/><path d="M522.9 289.0L529.5 295.6M522.9 295.6L529.5 289.0"/><path d="M523.5 289.0L530.1 295.6M523.5 295.6L530.1 289.0"/><path d="M524.1 289.4L530.7 296.0M524.1 296.0L530.7 289.4"/><path d="M524.6 289.6L531.2 296.2M524.6 296.2L531.2 289.6"/><path d="M525.0 290.0L531.6 296.6M525.0 296.6L531.6 290.0"/><path d="M525.7 290.1L532.3 296.7M525.7 296.7L532.3 290.1"/><path d="M526.4 290.4L533.0 297.0M526.4 297.0L533.0 290.4"/><path d="M527.0 291.0L533.6 297.6M527.0 297.6L533.6 291.0"/><path d="M527.4 291.2L534.0 297.8M527.4 297.8L534.0 291.2"/><path d="M528.2 291.4L534.8 298.0M528.2 298.0L534.8 291.4"/><path d="M528.5 291.8L535.1 298.4M528.5 298.4L535.1 291.8"/>
</g>
<rect x="362" y="41" width="155.6" height="34.5" fill="#fff" stroke="#000" stroke-width="2.6"/>
<circle cx="389.9" cy="51.4" r="4.2" fill="none" stroke="#0074C6" stroke-width="3.4"/>
<path stroke="#FF5500" stroke-width="3.0" fill="none" d="M386.9 64.7L393.5 71.3M386.9 71.3L393.5 64.7"/>
<g transform="translate(416.3 56.3) scale(1 1.08)"><text x="0" y="0" font-size="12.2" fill="#000" class="k" textLength="97.5" lengthAdjust="spacing">Magnitude Weight</text></g>
<g transform="translate(416.3 71.6) scale(1 1.08)"><text x="0" y="0" font-size="12.2" fill="#000" class="k" textLength="75.2" lengthAdjust="spacing">Phase Weight</text></g>
</svg>
</body></html>
